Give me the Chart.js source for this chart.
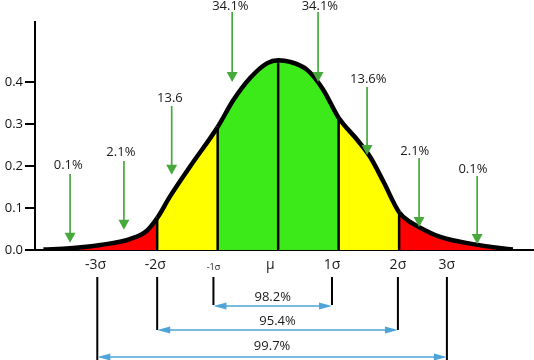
<!DOCTYPE html>
<html>
<head>
<meta charset="utf-8">
<script src="https://cdn.jsdelivr.net/npm/chart.js@4"></script>
<style>
  html, body { margin: 0; padding: 0; background: #fff; }
</style>
</head>
<body>
<canvas id="c" width="534" height="360"></canvas>
<script>
// curve (x in sigma units, y = density)
const sigmaX = [-3.88, -3.44, -2.94, -2.45, -2.17, -2.0, -1.79, -1.45, -1.0, -0.74, -0.46, -0.18, 0, 0.2, 0.48, 0.74, 1.0, 1.31, 1.52, 1.74, 2.0, 2.18, 2.31, 2.68, 3.22, 3.88];
const density = [0.001, 0.004, 0.012, 0.026, 0.046, 0.076, 0.127, 0.2, 0.293, 0.357, 0.41, 0.445, 0.452, 0.448, 0.429, 0.383, 0.315, 0.262, 0.222, 0.163, 0.09, 0.067, 0.056, 0.031, 0.014, 0.001];
const yTicks = [0, 0.1, 0.2, 0.3, 0.4];

// bands between these edges
const bandEdges = [-2, -1, 0, 1, 2];
const bandColors = ['#ff0000', '#ffff00', '#3dea19', '#3dea19', '#ffff00', '#ff0000'];

const shareLabels = ['0.1%', '2.1%', '13.6', '34.1%', '34.1%', '13.6%', '2.1%', '0.1%'];
const sigmaLabels = ['-3σ', '-2σ', '-1σ', 'μ', '1σ', '2σ', '3σ'];
const spanLabels = ['98.2%', '95.4%', '99.7%'];

// callout placement (sigma units / density units)
const calloutText = [[-3.47, 0.202], [-2.6, 0.233], [-1.79, 0.362], [-0.79, 0.581], [0.69, 0.581], [1.49, 0.407], [2.26, 0.236], [3.22, 0.193]];
const calloutArrow = [[-3.44, 0.181, 0.017], [-2.55, 0.212, 0.048], [-1.76, 0.343, 0.179], [-0.76, 0.567, 0.40], [0.66, 0.567, 0.40], [1.47, 0.388, 0.226], [2.33, 0.219, 0.055], [3.29, 0.176, 0.014]];
const sigmaLabelX = [-3.02, -2.03, -1.07, -0.13, 0.89, 1.98, 2.79];
const spanEdges = [[-1.07, 0.89], [-2.0, 1.98], [-2.99, 2.79]];

const GREEN = '#47a93c';
const BLUE = '#4ea4d8';
const FONT = '"Open Sans", "DejaVu Sans", sans-serif';

function bandColor(v) {
  let i = 0;
  while (i < bandEdges.length && v > bandEdges[i]) i++;
  return bandColors[i];
}

const points = sigmaX.map((s, i) => ({ x: s, y: density[i] }));
const dividers = bandEdges.map(e => {
  const v = density[sigmaX.indexOf(e)];
  return {
    data: [{ x: e, y: 0 }, { x: e, y: v }],
    borderColor: '#000',
    borderWidth: 2.5,
    pointRadius: 0,
    fill: false
  };
});

function arrowDown(ctx, x, y0, y1) {
  ctx.strokeStyle = GREEN;
  ctx.fillStyle = GREEN;
  ctx.lineWidth = 1.7;
  ctx.beginPath();
  ctx.moveTo(x, y0);
  ctx.lineTo(x, y1 - 8);
  ctx.stroke();
  ctx.beginPath();
  ctx.moveTo(x - 5.5, y1 - 10);
  ctx.lineTo(x + 5.5, y1 - 10);
  ctx.lineTo(x, y1);
  ctx.closePath();
  ctx.fill();
}

function arrowBoth(ctx, x0, x1, y) {
  ctx.strokeStyle = BLUE;
  ctx.fillStyle = BLUE;
  ctx.lineWidth = 1.6;
  ctx.beginPath();
  ctx.moveTo(x0 + 8, y);
  ctx.lineTo(x1 - 8, y);
  ctx.stroke();
  [[x0, 1], [x1, -1]].forEach(([x, d]) => {
    ctx.beginPath();
    ctx.moveTo(x, y);
    ctx.lineTo(x + d * 13, y - 3.5);
    ctx.lineTo(x + d * 13, y + 3.5);
    ctx.closePath();
    ctx.fill();
  });
}

const overlay = {
  id: 'overlay',
  afterDraw(chart) {
    const { ctx, scales: { x, y }, chartArea } = chart;
    ctx.save();
    ctx.textAlign = 'center';
    ctx.textBaseline = 'middle';

    // green callouts
    shareLabels.forEach((t, i) => {
      const [ax, top, tip] = calloutArrow[i];
      arrowDown(ctx, x.getPixelForValue(ax), y.getPixelForValue(top), y.getPixelForValue(tip));
      ctx.fillStyle = '#1a1a1a';
      ctx.font = '13px ' + FONT;
      ctx.fillText(t, x.getPixelForValue(calloutText[i][0]), y.getPixelForValue(calloutText[i][1]));
    });

    // sigma labels under the axis
    const base = chartArea.bottom;
    sigmaLabels.forEach((t, i) => {
      ctx.fillStyle = '#1a1a1a';
      if (t === '-1σ') {
        ctx.font = '9px ' + FONT;
        ctx.fillText(t, x.getPixelForValue(sigmaLabelX[i]), base + 17);
      } else {
        ctx.font = '14px ' + FONT;
        ctx.fillText(t, x.getPixelForValue(sigmaLabelX[i]), base + 15);
      }
    });

    // span brackets
    const lineBottoms = [55, 80, 110];
    const arrowYs = [56, 80, 107];
    const textYs = [47, 71, 96];
    spanLabels.forEach((t, i) => {
      const x0 = x.getPixelForValue(spanEdges[i][0]);
      const x1 = x.getPixelForValue(spanEdges[i][1]);
      ctx.strokeStyle = '#000';
      ctx.lineWidth = 2;
      ctx.beginPath();
      ctx.moveTo(x0, base + 27);
      ctx.lineTo(x0, base + lineBottoms[i]);
      ctx.moveTo(x1, base + 27);
      ctx.lineTo(x1, base + lineBottoms[i]);
      ctx.stroke();
      arrowBoth(ctx, x0, x1, base + arrowYs[i]);
      ctx.fillStyle = '#1a1a1a';
      ctx.font = '13px ' + FONT;
      ctx.fillText(t, (x0 + x1) / 2, base + textYs[i]);
    });
    ctx.restore();
  }
};

new Chart(document.getElementById('c'), {
  type: 'line',
  data: {
    datasets: [
      {
        data: points,
        borderColor: '#000',
        borderWidth: 4.5,
        pointRadius: 0,
        cubicInterpolationMode: 'monotone',
        fill: 'origin',
        backgroundColor: '#3dea19',
        segment: {
          backgroundColor: c => bandColor((c.p0.parsed.x + c.p1.parsed.x) / 2)
        }
      },
      ...dividers
    ]
  },
  options: {
    responsive: false,
    animation: false,
    layout: { padding: { left: 0, right: 0, top: 22, bottom: 110 } },
    plugins: {
      legend: { display: false },
      tooltip: { enabled: false },
      filler: { drawTime: 'beforeDatasetsDraw' }
    },
    scales: {
      x: {
        type: 'linear',
        min: -4.02,
        max: 4.23,
        ticks: { display: false },
        grid: { display: false },
        border: { display: true, color: '#000', width: 2 },
        afterFit: s => { s.height = 0; }
      },
      y: {
        min: 0,
        max: 0.543,
        afterBuildTicks: s => { s.ticks = yTicks.map(v => ({ value: v })); },
        ticks: {
          color: '#111',
          padding: 2,
          font: { size: 13, family: FONT },
          callback: v => v.toFixed(1)
        },
        grid: { drawOnChartArea: false, drawTicks: true, tickLength: 10, color: '#000', lineWidth: 2 },
        border: { display: true, color: '#000', width: 2 },
        afterFit: s => { s.width = 35; }
      }
    }
  },
  plugins: [overlay]
});
</script>
</body>
</html>
